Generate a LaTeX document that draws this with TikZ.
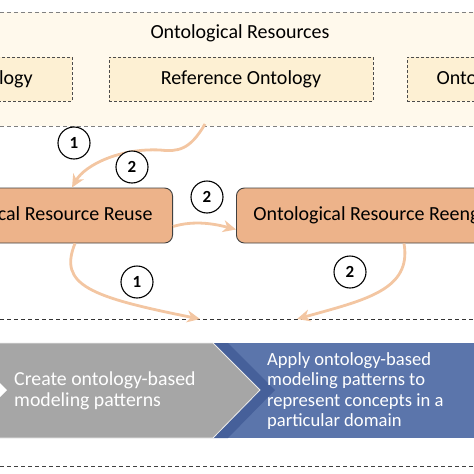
\documentclass[tikz,border=0pt]{standalone}
\usepackage{fontspec}
\setmainfont{Carlito}
\usetikzlibrary{arrows.meta}

\definecolor{creamband}{HTML}{FFF9EC}
\definecolor{resbox}{HTML}{FDF0D3}
\definecolor{taskbox}{HTML}{EDB38A}
\definecolor{flow}{HTML}{F3C6A2}
\definecolor{stepgray}{HTML}{A6A6A6}
\definecolor{stepblue}{HTML}{5B75AB}
\definecolor{stepshade}{HTML}{46609A}

\begin{document}
\begin{tikzpicture}[x=1pt,y=-1pt,font=\fontsize{20}{24}\selectfont,
    resource/.style={draw=black!70,dash pattern=on 3pt off 2pt,fill=resbox,minimum width=264pt,minimum height=44pt},
    task/.style={draw=black!75,line width=0.9pt,fill=taskbox,rounded corners=8pt,minimum height=55pt},
    num/.style={circle,draw,line width=1.1pt,fill=white,minimum size=32pt,inner sep=0pt,font=\fontsize{17}{20}\selectfont\bfseries},
    flowarrow/.style={draw=flow,line width=2.8pt,-{Stealth[length=13pt,width=12pt,inset=4pt]}},
    sep/.style={dash pattern=on 4pt off 3pt,line width=0.8pt},
    steptext/.style={text=white,align=left,inner sep=0pt,anchor=west}]
  \useasboundingbox (0,0) rectangle (474,474);
  \clip (0,0) rectangle (474,474);

  % ontological resources
  \fill[creamband] (0,12) rectangle (474,126);
  \draw[sep,gray] (0,12) -- (474,12);
  \draw[sep,gray] (0,126) -- (474,126);
  \node (resources) at (240,33.5) {Ontological Resources};
  \node[resource] (foundational) at (-60,79) {Foundational Ontology};
  \node[resource] (reference) at (241,79) {Reference Ontology};
  \node[resource] (patterns) at (539,79) {Ontology Design Patterns};
  \coordinate (resout) at (205,124);

  % activities
  \node[task,anchor=east,inner xsep=20pt] (reuse) at (173,215.5) {Ontological Resource Reuse};
  \node[task,anchor=west,inner xsep=17pt] (reeng) at (236,215.5) {Ontological Resource Reengineering};

  \draw[flowarrow] (resout) .. controls (190,150) and (178,152) .. (160,150)
    .. controls (120,148) and (85,165) .. ([xshift=-101pt]reuse.north east);
  \draw[flowarrow] ([yshift=-11pt]reuse.east) .. controls (195,220) and (215,224) .. ([yshift=-14pt]reeng.west);

  \node[num] (n1a) at (74,143) {1};
  \node[num] (n2a) at (132,167) {2};
  \node[num] (n2b) at (207,197) {2};
  \node[num] (n1b) at (137,282) {1};
  \node[num] (n2c) at (350,272) {2};

  \draw[sep,black!80] (0,319) -- (474,319);
  \coordinate (apply1) at (200,319);
  \coordinate (apply2) at (297,319);
  \draw[flowarrow] ([xshift=-98pt]reuse.south east) .. controls (58,285) and (90,297) .. (apply1);
  \draw[flowarrow] ([xshift=168pt]reeng.south west) .. controls (412,290) and (365,300) .. (apply2);

  % steps
  \fill[stepblue] (213,343) rectangle (474,438);
  \fill[stepshade] (213,343) -- (228,343) -- (275,390) -- (228,438) -- (213,438) -- cycle;
  \filldraw[fill=stepgray,draw=white!85!gray,line width=0.8pt] (-2,343) -- (213,343) -- (260,390) -- (213,438) -- (-2,438) -- cycle;
  \fill[white] (0,383) -- (7,390) -- (0,397) -- cycle;
  \node[steptext,font=\fontsize{19.8}{21}\selectfont] (create) at (14,390.5) {Create ontology-based\\modeling patterns};
  \node[steptext,font=\fontsize{18.6}{20.4}\selectfont] (apply) at (267,391) {Apply ontology-based\\modeling patterns to\\represent concepts in a\\particular domain};

  \draw[sep,black!75] (0,466) -- (474,466);
\end{tikzpicture}
\end{document}
